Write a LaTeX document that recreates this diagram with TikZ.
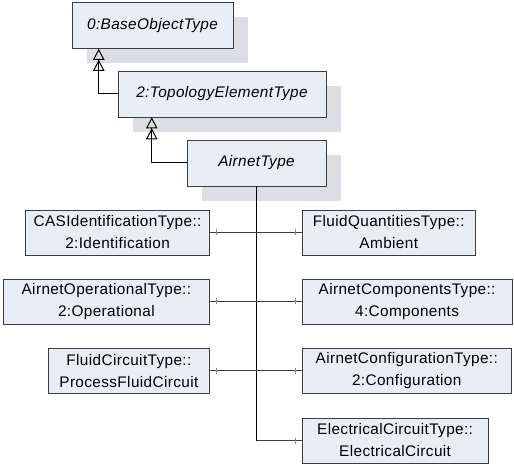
\documentclass[tikz,border=0pt]{standalone}
\usepackage{fontspec}
\setmainfont{Liberation Sans}[LetterSpace=2.5]
\usetikzlibrary{arrows.meta,shadows,decorations.markings}
\definecolor{boxfill}{HTML}{E8EEF7}
\definecolor{shadowgray}{HTML}{DCDEE3}
\definecolor{boxline}{HTML}{3C3C3C}
\definecolor{tickgray}{HTML}{8C8C8C}
\tikzset{typebox/.style={draw=boxline, fill=boxfill, minimum height=34.5pt, inner sep=0pt,
    font=\fontsize{11.5pt}{16.5pt}\selectfont\itshape,
    general shadow={fill=shadowgray, shadow xshift=11.25pt, shadow yshift=-11.25pt}},
propbox/.style={draw=boxline, fill=boxfill, minimum height=34pt, inner sep=0pt, align=center},
inherit/.style={draw=black, line width=0.75pt,
    -{Triangle[open,length=8.25pt,width=8.5pt,sep=0pt,line width=0.75pt]Triangle[open,length=8.25pt,width=8.5pt,line width=0.75pt]}},
hasprop/.style={draw=boxline, line width=0.75pt, postaction={decorate},
    decoration={markings, mark=at position -4.75pt with {\draw[tickgray, line width=0.75pt] (0,-2.25pt) -- (0,2.25pt);}}}
}

\begin{document}
\begin{tikzpicture}[x=0.75pt, y=-0.75pt, font=\fontsize{11.5pt}{16.5pt}\selectfont]
    \useasboundingbox (0,0) rectangle (514,466);
    % type hierarchy
    \node[typebox, minimum width=120.75pt] (base) at (152.5, 25.5) {0:BaseObjectType};
    \node[typebox, minimum width=156pt] (topo) at (222, 94) {2:TopologyElementType};
    \node[typebox, minimum width=104.25pt] (airnet) at (256.5, 163) {AirnetType};

    % properties and components
    \node[propbox, minimum width=138.25pt, anchor=east] (casid) at (210, 232.5) {CASIdentificationType::\\2:Identification};
    \node[propbox, minimum width=155pt, anchor=east] (oper) at (210, 301.5) {AirnetOperationalType::\\2:Operational};
    \node[propbox, minimum width=121.25pt, anchor=east] (fluidc) at (210, 371) {FluidCircuitType::\\ProcessFluidCircuit};
    \node[propbox, minimum width=129.75pt, anchor=west] (ambient) at (302, 232.5) {FluidQuantitiesType::\\Ambient};
    \node[propbox, minimum width=157.25pt, anchor=west] (comp) at (302, 301.5) {AirnetComponentsType::\\4:Components};
    \node[propbox, minimum width=156.75pt, anchor=west] (config) at (302, 371) {AirnetConfigurationType::\\2:Configuration};
    \node[propbox, minimum width=139.25pt, anchor=west] (elec) at (302, 440.5) {ElectricalCircuitType::\\ElectricalCircuit};

    \draw[inherit] (topo.west) -| ([xshift=20.25pt]base.south west);
    \draw[inherit] (airnet.west) -| ([xshift=25.5pt]topo.south west);

    \draw[line width=0.9pt] (airnet.south) -- (airnet.south |- elec.west);
    \draw[hasprop] (airnet.south |- casid.east) -- (casid.east);
    \draw[hasprop] (airnet.south |- oper.east) -- (oper.east);
    \draw[hasprop] (airnet.south |- fluidc.east) -- (fluidc.east);
    \draw[hasprop] (airnet.south |- ambient.west) -- (ambient.west);
    \draw[hasprop] (airnet.south |- comp.west) -- (comp.west);
    \draw[hasprop] (airnet.south |- config.west) -- (config.west);
    \draw[hasprop] (airnet.south |- elec.west) -- (elec.west);
\end{tikzpicture}
\end{document}
